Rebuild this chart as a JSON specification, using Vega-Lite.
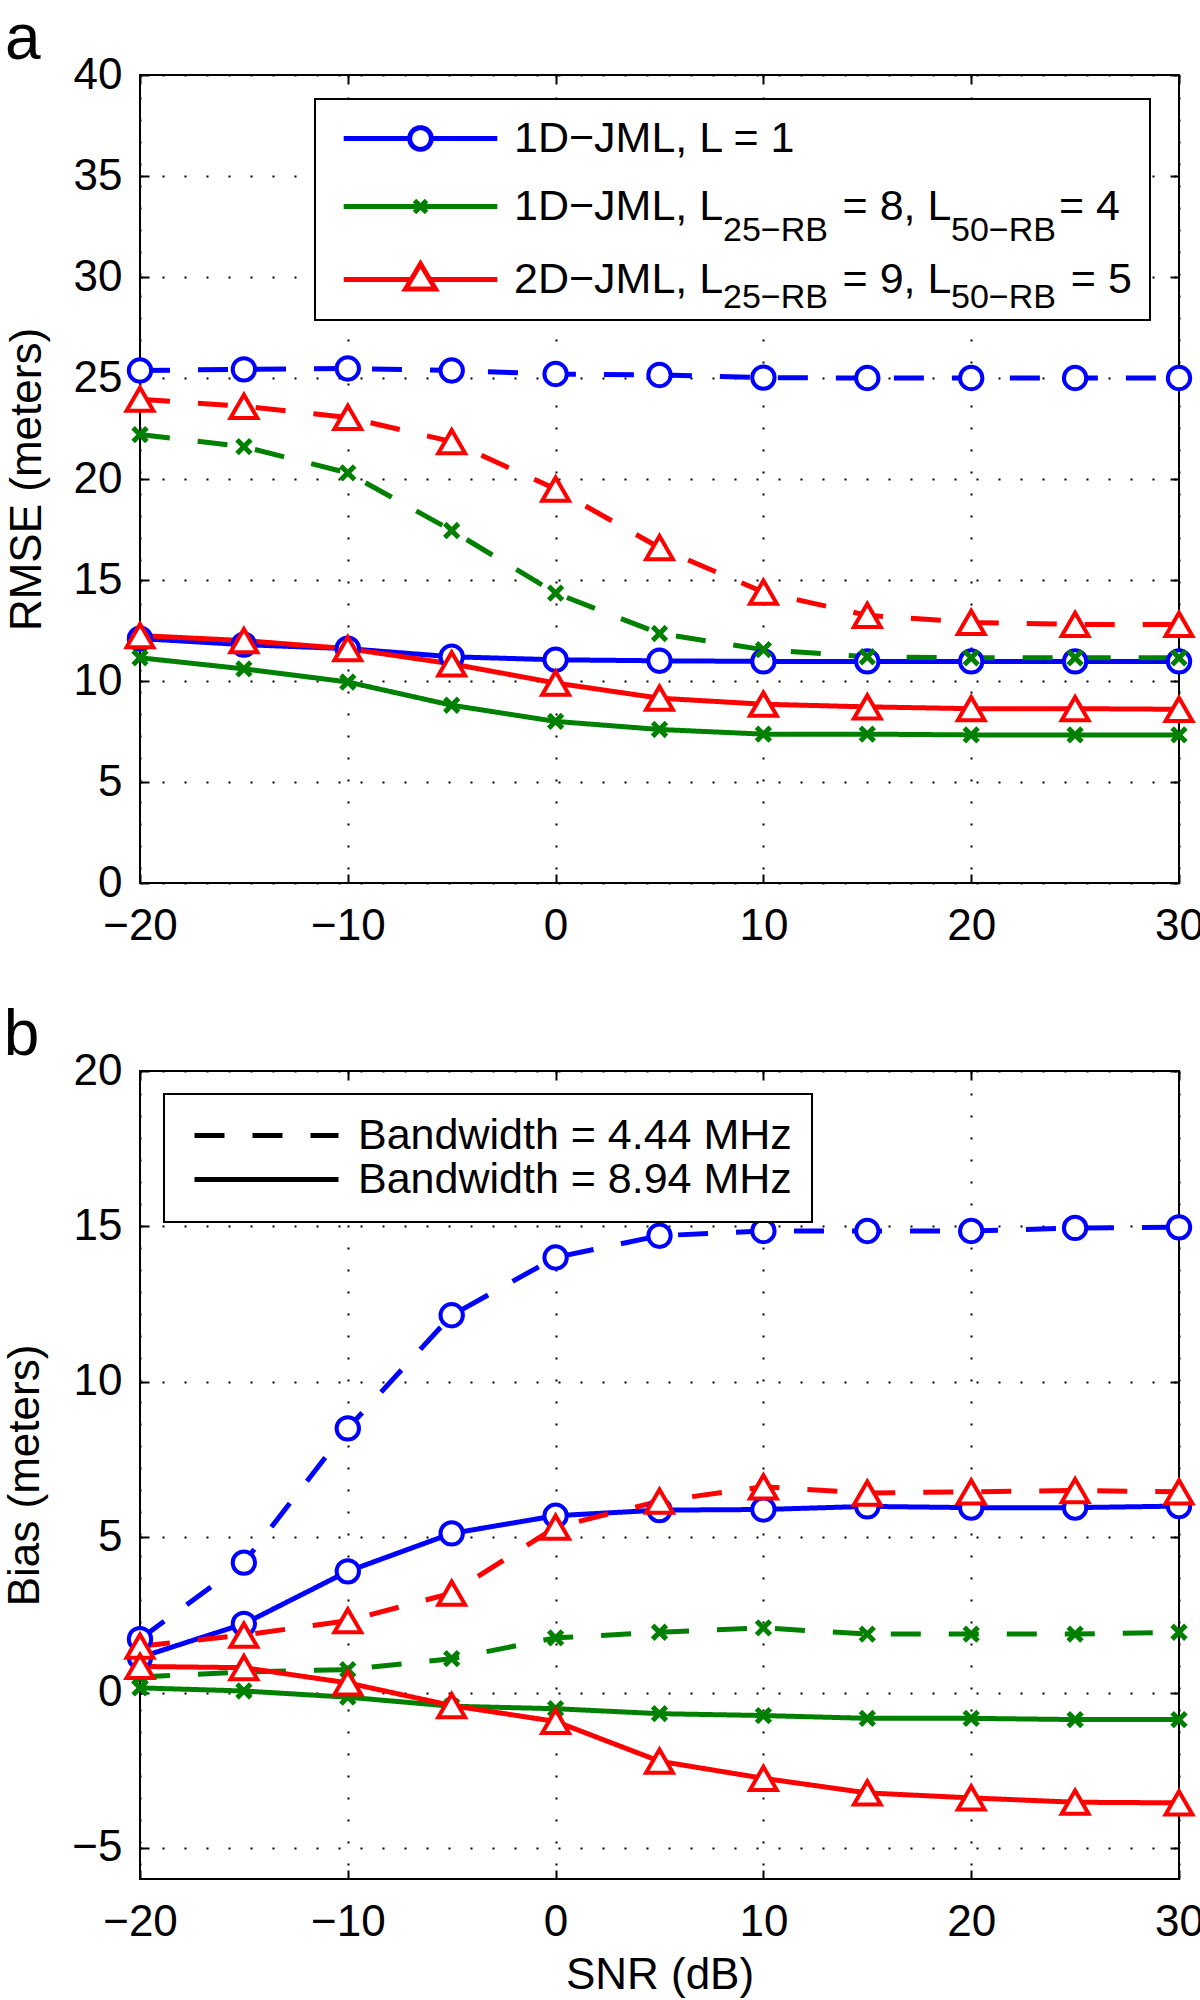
{
  "$schema": "https://vega.github.io/schema/vega-lite/v6.json",
  "background": "white",
  "padding": {"top": 7, "left": 2, "right": 0, "bottom": 0},
  "config": {
    "font": "Liberation Sans",
    "view": {"stroke": "black", "strokeWidth": 2},
    "axis": {
      "domain": false,
      "labelFont": "Liberation Sans",
      "labelFontSize": 44,
      "labelColor": "black",
      "labelFlush": false,
      "titleFont": "Liberation Sans",
      "titleFontSize": 44,
      "titleFontWeight": "normal",
      "titleColor": "black",
      "tickColor": "black",
      "tickWidth": 2,
      "tickSize": -9,
      "gridColor": "black",
      "gridDash": [2, 20],
      "gridWidth": 2,
      "gridOpacity": 1
    },
    "legend": {
      "labelFont": "Liberation Sans",
      "labelColor": "black",
      "labelLimit": 1000,
      "strokeColor": "black",
      "fillColor": "white"
    },
    "title": {"font": "Liberation Sans", "color": "black"}
  },
  "datasets": {
    "rmse": [
      {"snr": -20, "m": "A", "bw": "4.44", "v": 25.37},
      {"snr": -15, "m": "A", "bw": "4.44", "v": 25.43},
      {"snr": -10, "m": "A", "bw": "4.44", "v": 25.47},
      {"snr": -5, "m": "A", "bw": "4.44", "v": 25.37},
      {"snr": 0, "m": "A", "bw": "4.44", "v": 25.2},
      {"snr": 5, "m": "A", "bw": "4.44", "v": 25.15},
      {"snr": 10, "m": "A", "bw": "4.44", "v": 25.02},
      {"snr": 15, "m": "A", "bw": "4.44", "v": 25.0},
      {"snr": 20, "m": "A", "bw": "4.44", "v": 25.0},
      {"snr": 25, "m": "A", "bw": "4.44", "v": 25.0},
      {"snr": 30, "m": "A", "bw": "4.44", "v": 25.0},
      {"snr": -20, "m": "A", "bw": "8.94", "v": 12.1},
      {"snr": -15, "m": "A", "bw": "8.94", "v": 11.8},
      {"snr": -10, "m": "A", "bw": "8.94", "v": 11.6},
      {"snr": -5, "m": "A", "bw": "8.94", "v": 11.2},
      {"snr": 0, "m": "A", "bw": "8.94", "v": 11.05},
      {"snr": 5, "m": "A", "bw": "8.94", "v": 11.0},
      {"snr": 10, "m": "A", "bw": "8.94", "v": 10.97},
      {"snr": 15, "m": "A", "bw": "8.94", "v": 10.97},
      {"snr": 20, "m": "A", "bw": "8.94", "v": 10.97},
      {"snr": 25, "m": "A", "bw": "8.94", "v": 10.97},
      {"snr": 30, "m": "A", "bw": "8.94", "v": 10.97},
      {"snr": -20, "m": "B", "bw": "4.44", "v": 22.2},
      {"snr": -15, "m": "B", "bw": "4.44", "v": 21.6},
      {"snr": -10, "m": "B", "bw": "4.44", "v": 20.3},
      {"snr": -5, "m": "B", "bw": "4.44", "v": 17.45},
      {"snr": 0, "m": "B", "bw": "4.44", "v": 14.35},
      {"snr": 5, "m": "B", "bw": "4.44", "v": 12.35},
      {"snr": 10, "m": "B", "bw": "4.44", "v": 11.55},
      {"snr": 15, "m": "B", "bw": "4.44", "v": 11.2},
      {"snr": 20, "m": "B", "bw": "4.44", "v": 11.15},
      {"snr": 25, "m": "B", "bw": "4.44", "v": 11.15},
      {"snr": 30, "m": "B", "bw": "4.44", "v": 11.15},
      {"snr": -20, "m": "B", "bw": "8.94", "v": 11.15},
      {"snr": -15, "m": "B", "bw": "8.94", "v": 10.6},
      {"snr": -10, "m": "B", "bw": "8.94", "v": 9.95},
      {"snr": -5, "m": "B", "bw": "8.94", "v": 8.8},
      {"snr": 0, "m": "B", "bw": "8.94", "v": 8.0},
      {"snr": 5, "m": "B", "bw": "8.94", "v": 7.6},
      {"snr": 10, "m": "B", "bw": "8.94", "v": 7.37},
      {"snr": 15, "m": "B", "bw": "8.94", "v": 7.37},
      {"snr": 20, "m": "B", "bw": "8.94", "v": 7.33},
      {"snr": 25, "m": "B", "bw": "8.94", "v": 7.33},
      {"snr": 30, "m": "B", "bw": "8.94", "v": 7.33},
      {"snr": -20, "m": "C", "bw": "4.44", "v": 23.95},
      {"snr": -15, "m": "C", "bw": "4.44", "v": 23.6},
      {"snr": -10, "m": "C", "bw": "4.44", "v": 23.05},
      {"snr": -5, "m": "C", "bw": "4.44", "v": 21.85},
      {"snr": 0, "m": "C", "bw": "4.44", "v": 19.5},
      {"snr": 5, "m": "C", "bw": "4.44", "v": 16.6},
      {"snr": 10, "m": "C", "bw": "4.44", "v": 14.4},
      {"snr": 15, "m": "C", "bw": "4.44", "v": 13.25},
      {"snr": 20, "m": "C", "bw": "4.44", "v": 12.9},
      {"snr": 25, "m": "C", "bw": "4.44", "v": 12.8},
      {"snr": 30, "m": "C", "bw": "4.44", "v": 12.8},
      {"snr": -20, "m": "C", "bw": "8.94", "v": 12.25},
      {"snr": -15, "m": "C", "bw": "8.94", "v": 12.0},
      {"snr": -10, "m": "C", "bw": "8.94", "v": 11.6},
      {"snr": -5, "m": "C", "bw": "8.94", "v": 10.85},
      {"snr": 0, "m": "C", "bw": "8.94", "v": 9.9},
      {"snr": 5, "m": "C", "bw": "8.94", "v": 9.15},
      {"snr": 10, "m": "C", "bw": "8.94", "v": 8.85},
      {"snr": 15, "m": "C", "bw": "8.94", "v": 8.72},
      {"snr": 20, "m": "C", "bw": "8.94", "v": 8.63},
      {"snr": 25, "m": "C", "bw": "8.94", "v": 8.63},
      {"snr": 30, "m": "C", "bw": "8.94", "v": 8.6}
    ],
    "bias": [
      {"snr": -20, "m": "A", "bw": "4.44", "v": 1.72},
      {"snr": -15, "m": "A", "bw": "4.44", "v": 4.18},
      {"snr": -10, "m": "A", "bw": "4.44", "v": 8.5},
      {"snr": -5, "m": "A", "bw": "4.44", "v": 12.14},
      {"snr": 0, "m": "A", "bw": "4.44", "v": 14.0},
      {"snr": 5, "m": "A", "bw": "4.44", "v": 14.7},
      {"snr": 10, "m": "A", "bw": "4.44", "v": 14.85},
      {"snr": 15, "m": "A", "bw": "4.44", "v": 14.85},
      {"snr": 20, "m": "A", "bw": "4.44", "v": 14.85},
      {"snr": 25, "m": "A", "bw": "4.44", "v": 14.95},
      {"snr": 30, "m": "A", "bw": "4.44", "v": 14.97},
      {"snr": -20, "m": "A", "bw": "8.94", "v": 1.13},
      {"snr": -15, "m": "A", "bw": "8.94", "v": 2.21},
      {"snr": -10, "m": "A", "bw": "8.94", "v": 3.9},
      {"snr": -5, "m": "A", "bw": "8.94", "v": 5.12},
      {"snr": 0, "m": "A", "bw": "8.94", "v": 5.69},
      {"snr": 5, "m": "A", "bw": "8.94", "v": 5.87},
      {"snr": 10, "m": "A", "bw": "8.94", "v": 5.89},
      {"snr": 15, "m": "A", "bw": "8.94", "v": 5.99},
      {"snr": 20, "m": "A", "bw": "8.94", "v": 5.95},
      {"snr": 25, "m": "A", "bw": "8.94", "v": 5.95},
      {"snr": 30, "m": "A", "bw": "8.94", "v": 6.0},
      {"snr": -20, "m": "B", "bw": "4.44", "v": 0.5},
      {"snr": -15, "m": "B", "bw": "4.44", "v": 0.66},
      {"snr": -10, "m": "B", "bw": "4.44", "v": 0.74},
      {"snr": -5, "m": "B", "bw": "4.44", "v": 1.09},
      {"snr": 0, "m": "B", "bw": "4.44", "v": 1.76},
      {"snr": 5, "m": "B", "bw": "4.44", "v": 1.94},
      {"snr": 10, "m": "B", "bw": "4.44", "v": 2.08},
      {"snr": 15, "m": "B", "bw": "4.44", "v": 1.88},
      {"snr": 20, "m": "B", "bw": "4.44", "v": 1.88},
      {"snr": 25, "m": "B", "bw": "4.44", "v": 1.88},
      {"snr": 30, "m": "B", "bw": "4.44", "v": 1.94},
      {"snr": -20, "m": "B", "bw": "8.94", "v": 0.15},
      {"snr": -15, "m": "B", "bw": "8.94", "v": 0.05},
      {"snr": -10, "m": "B", "bw": "8.94", "v": -0.15},
      {"snr": -5, "m": "B", "bw": "8.94", "v": -0.44},
      {"snr": 0, "m": "B", "bw": "8.94", "v": -0.52},
      {"snr": 5, "m": "B", "bw": "8.94", "v": -0.68},
      {"snr": 10, "m": "B", "bw": "8.94", "v": -0.74},
      {"snr": 15, "m": "B", "bw": "8.94", "v": -0.83},
      {"snr": 20, "m": "B", "bw": "8.94", "v": -0.83},
      {"snr": 25, "m": "B", "bw": "8.94", "v": -0.87},
      {"snr": 30, "m": "B", "bw": "8.94", "v": -0.87},
      {"snr": -20, "m": "C", "bw": "4.44", "v": 1.49},
      {"snr": -15, "m": "C", "bw": "4.44", "v": 1.85},
      {"snr": -10, "m": "C", "bw": "4.44", "v": 2.31},
      {"snr": -5, "m": "C", "bw": "4.44", "v": 3.2},
      {"snr": 0, "m": "C", "bw": "4.44", "v": 5.32},
      {"snr": 5, "m": "C", "bw": "4.44", "v": 6.16},
      {"snr": 10, "m": "C", "bw": "4.44", "v": 6.62},
      {"snr": 15, "m": "C", "bw": "4.44", "v": 6.42},
      {"snr": 20, "m": "C", "bw": "4.44", "v": 6.46},
      {"snr": 25, "m": "C", "bw": "4.44", "v": 6.5},
      {"snr": 30, "m": "C", "bw": "4.44", "v": 6.46},
      {"snr": -20, "m": "C", "bw": "8.94", "v": 0.84},
      {"snr": -15, "m": "C", "bw": "8.94", "v": 0.8},
      {"snr": -10, "m": "C", "bw": "8.94", "v": 0.31},
      {"snr": -5, "m": "C", "bw": "8.94", "v": -0.42},
      {"snr": 0, "m": "C", "bw": "8.94", "v": -0.93},
      {"snr": 5, "m": "C", "bw": "8.94", "v": -2.21},
      {"snr": 10, "m": "C", "bw": "8.94", "v": -2.76},
      {"snr": 15, "m": "C", "bw": "8.94", "v": -3.23},
      {"snr": 20, "m": "C", "bw": "8.94", "v": -3.39},
      {"snr": 25, "m": "C", "bw": "8.94", "v": -3.53},
      {"snr": 30, "m": "C", "bw": "8.94", "v": -3.55}
    ]
  },
  "resolve": {
    "scale": {"y": "independent"},
    "legend": {"color": "independent", "strokeDash": "independent", "fill": "independent", "stroke": "independent"}
  },
  "spacing": 54,
  "vconcat": [
    {
      "width": 1039,
      "height": 808,
      "title": {"text": "a", "anchor": "start", "frame": "bounds", "fontSize": 64, "fontWeight": "normal", "offset": -19},
      "data": {"name": "rmse"},
      "layer": [
        {
          "mark": {"type": "line", "strokeWidth": 5},
          "encoding": {
            "x": {
              "field": "snr", "type": "quantitative",
              "scale": {"domain": [-20, 30]},
              "axis": {
                "title": null, "values": [-20, -10, 0, 10, 20, 30], "grid": true, "labelPadding": 30,
                "encode": {"labels": {"update": {"dx": {"signal": "datum.value < 0 ? -12 : 0"}}}}
              }
            },
            "y": {
              "field": "v", "type": "quantitative",
              "scale": {"domain": [0, 40]},
              "axis": {"title": "RMSE (meters)", "values": [0, 5, 10, 15, 20, 25, 30, 35, 40], "grid": true, "labelPadding": 27, "titlePadding": 24}
            },
            "color": {
              "field": "m", "type": "nominal",
              "scale": {"domain": ["A", "B", "C"], "range": ["#0000ff", "#008000", "#ff0000"]},
              "legend": {
                "title": null,
                "orient": "none", "legendX": 175, "legendY": 24,
                "labelExpr": "datum.value == 'A' ? '1D−JML, L = 1' : datum.value == 'B' ? '1D−JML, L\u00a0\u00a0\u00a0\u00a0\u00a0\u00a0\u00a0\u00a0\u00a0 = 8, L\u00a0\u00a0\u00a0\u00a0\u00a0\u00a0\u00a0\u00a0\u00a0= 4' : '2D−JML, L\u00a0\u00a0\u00a0\u00a0\u00a0\u00a0\u00a0\u00a0\u00a0 = 9, L\u00a0\u00a0\u00a0\u00a0\u00a0\u00a0\u00a0\u00a0\u00a0 = 5'",
                "labelFontSize": 43,
                "symbolSize": 576, "symbolStrokeWidth": 5, "symbolOffset": 66, "labelOffset": 72,
                "rowPadding": 24, "padding": 18,
                "encode": {
                  "legend": {"update": {"strokeWidth": {"value": 2}}},
                  "symbols": {"update": {
                    "shape": {"signal": "datum.index === 0 ? 'M-6.4,0H-0.9M0.9,0H6.4M0.9,0A0.9,0.9,0,1,1,-0.9,0A0.9,0.9,0,1,1,0.9,0Z' : datum.index === 1 ? 'M-6.4,0H6.4M-0.5,-0.5L0.5,0.5M-0.5,0.5L0.5,-0.5' : 'M-6.4,0H-0.8M0.8,0H6.4M0,-1.3L1.25,0.8L-1.25,0.8Z'"},
                    "fill": {"signal": "datum.index === 1 ? '#008000' : 'white'"},
                    "strokeDash": {"value": [1, 0]}
                  }}
                }
              }
            },
            "strokeDash": {
              "field": "bw", "type": "nominal",
              "scale": {"domain": ["4.44", "8.94"], "range": [[30, 28], [1, 0]]},
              "legend": null
            }
          }
        },
        {
          "mark": {"type": "point", "filled": true, "opacity": 1},
          "encoding": {
            "x": {
              "field": "snr", "type": "quantitative",
              "axis": {"orient": "top", "title": null, "labels": false, "grid": false, "values": [-20, -10, 0, 10, 20, 30]}
            },
            "y": {
              "field": "v", "type": "quantitative",
              "axis": {"orient": "right", "title": null, "labels": false, "grid": false, "values": [0, 5, 10, 15, 20, 25, 30, 35, 40]}
            },
            "shape": {
              "field": "m", "type": "nominal",
              "scale": {"domain": ["A", "B", "C"], "range": ["circle", "M-1,-1L1,1M-1,1L1,-1", "triangle-up"]},
              "legend": null
            },
            "size": {
              "field": "m", "type": "nominal",
              "scale": {"type": "ordinal", "domain": ["A", "B", "C"], "range": [500, 190, 720]},
              "legend": null
            },
            "strokeWidth": {
              "field": "m", "type": "nominal",
              "scale": {"type": "ordinal", "domain": ["A", "B", "C"], "range": [4, 5, 4]},
              "legend": null
            },
            "fill": {
              "field": "m", "type": "nominal",
              "scale": {"domain": ["A", "B", "C", "D"], "range": ["white", "#008000", "white", "white"]},
              "legend": {
                "title": null,
                "orient": "none", "legendX": 549, "legendY": 72,
                "labelExpr": "datum.value == 'B' || datum.value == 'C' ? '25−RB' : ''",
                "labelFontSize": 34,
                "symbolSize": 1, "symbolOpacity": 0, "symbolStrokeWidth": 0, "symbolOffset": 0, "labelOffset": 0,
                "rowPadding": 33, "padding": 0,
                "fillColor": "transparent", "strokeColor": "transparent"
              }
            },
            "stroke": {
              "field": "m", "type": "nominal",
              "scale": {"domain": ["A", "B", "C", "E"], "range": ["#0000ff", "#008000", "#ff0000", "#ff0000"]},
              "legend": {
                "title": null,
                "orient": "none", "legendX": 777, "legendY": 72,
                "labelExpr": "datum.value == 'B' || datum.value == 'C' ? '50−RB' : ''",
                "labelFontSize": 34,
                "symbolSize": 1, "symbolOpacity": 0, "symbolStrokeWidth": 0, "symbolOffset": 0, "labelOffset": 0,
                "rowPadding": 33, "padding": 0,
                "fillColor": "transparent", "strokeColor": "transparent"
              }
            }
          }
        }
      ],
      "resolve": {"axis": {"x": "independent", "y": "independent"}}
    },
    {
      "width": 1039,
      "height": 808,
      "title": {"text": "b", "anchor": "start", "frame": "bounds", "fontSize": 64, "fontWeight": "normal", "offset": -19},
      "data": {"name": "bias"},
      "layer": [
        {
          "mark": {"type": "line", "strokeWidth": 5},
          "encoding": {
            "x": {
              "field": "snr", "type": "quantitative",
              "scale": {"domain": [-20, 30]},
              "axis": {
                "title": "SNR (dB)", "values": [-20, -10, 0, 10, 20, 30], "grid": true, "labelPadding": 30, "titlePadding": 9,
                "encode": {"labels": {"update": {"dx": {"signal": "datum.value < 0 ? -12 : 0"}}}}
              }
            },
            "y": {
              "field": "v", "type": "quantitative",
              "scale": {"domain": [-5, 20]},
              "axis": {"title": "Bias (meters)", "values": [-5, 0, 5, 10, 15, 20], "grid": true, "labelPadding": 27, "titlePadding": 24}
            },
            "color": {
              "field": "m", "type": "nominal",
              "scale": {"domain": ["A", "B", "C"], "range": ["#0000ff", "#008000", "#ff0000"]},
              "legend": null
            },
            "strokeDash": {
              "field": "bw", "type": "nominal",
              "scale": {"domain": ["4.44", "8.94"], "range": [[30, 28], [1, 0]]},
              "legend": {
                "title": null,
                "orient": "none", "legendX": 24, "legendY": 23,
                "labelExpr": "'Bandwidth = ' + datum.value + ' MHz'",
                "labelFontSize": 43,
                "symbolSize": 576, "symbolStrokeWidth": 5, "symbolStrokeColor": "black",
                "symbolOffset": 61, "labelOffset": 70,
                "rowPadding": 0, "padding": 20,
                "encode": {
                  "legend": {"update": {"strokeWidth": {"value": 2}}},
                  "symbols": {"update": {
                    "shape": {"value": "M-6,0H6"},
                    "stroke": {"value": "black"}
                  }}
                }
              }
            }
          }
        },
        {
          "mark": {"type": "point", "filled": true, "opacity": 1},
          "encoding": {
            "x": {
              "field": "snr", "type": "quantitative",
              "axis": {"orient": "top", "title": null, "labels": false, "grid": false, "values": [-20, -10, 0, 10, 20, 30]}
            },
            "y": {
              "field": "v", "type": "quantitative",
              "axis": {"orient": "right", "title": null, "labels": false, "grid": false, "values": [-5, 0, 5, 10, 15, 20]}
            },
            "shape": {
              "field": "m", "type": "nominal",
              "scale": {"domain": ["A", "B", "C"], "range": ["circle", "M-1,-1L1,1M-1,1L1,-1", "triangle-up"]},
              "legend": null
            },
            "size": {
              "field": "m", "type": "nominal",
              "scale": {"type": "ordinal", "domain": ["A", "B", "C"], "range": [500, 190, 720]},
              "legend": null
            },
            "strokeWidth": {
              "field": "m", "type": "nominal",
              "scale": {"type": "ordinal", "domain": ["A", "B", "C"], "range": [4, 5, 4]},
              "legend": null
            },
            "fill": {
              "field": "m", "type": "nominal",
              "scale": {"domain": ["A", "B", "C", "D"], "range": ["white", "#008000", "white", "white"]},
              "legend": null
            },
            "stroke": {
              "field": "m", "type": "nominal",
              "scale": {"domain": ["A", "B", "C", "E"], "range": ["#0000ff", "#008000", "#ff0000", "#ff0000"]},
              "legend": null
            }
          }
        }
      ],
      "resolve": {"axis": {"x": "independent", "y": "independent"}}
    }
  ]
}
